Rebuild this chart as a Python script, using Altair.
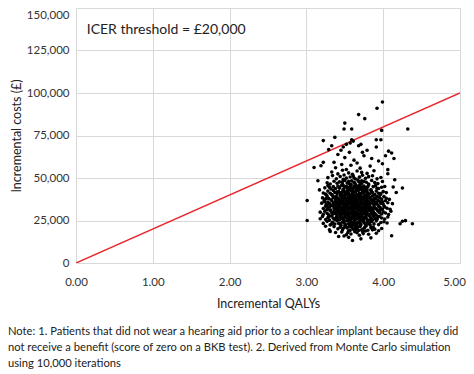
import altair as alt
import pandas as pd

# Axis ticks
x_ticks = [0, 1, 2, 3, 4, 5]
y_ticks = [0, 25000, 50000, 75000, 100000, 125000, 150000]

# ICER threshold line (£20,000 per QALY)
threshold_qaly = [0.0, 5.0]
threshold_cost = [0, 100000]

# Annotation
label_text = ["ICER threshold = £20,000"]
label_qaly = [0.14]
label_cost = [137000]

note_lines = [
    "Note: 1. Patients that did not wear a hearing aid prior to a cochlear implant because they did",
    "not receive a benefit (score of zero on a BKB test). 2. Derived from Monte Carlo simulation",
    "using 10,000 iterations",
]

# Monte Carlo points: (incremental QALYs, incremental cost in £ thousands)
band_13_19 = [(3.60,13.2),(3.49,15.9),(3.84,14.8),(3.55,15.1),(3.71,14.2),(3.42,15.6),
    (4.11,16.0),(3.38,17.9),(3.52,16.6),(3.63,18.4),(3.58,17.1),(3.69,16.3),(3.77,18.8),(3.46,18.2),
    (3.91,17.5),(3.66,17.8),(3.55,18.9),(3.81,16.9),(3.31,18.6),(3.74,17.3)]
band_19_25 = [(3.30,19.6),(3.94,19.0),(3.98,20.3),(3.36,21.4),(3.41,20.1),(3.47,19.4),(3.50,21.8),
    (3.53,20.6),(3.57,19.2),(3.59,21.1),(3.61,20.0),(3.63,21.7),(3.65,19.8),(3.67,20.9),(3.70,21.5),
    (3.72,19.5),(3.75,20.4),(3.78,21.9),(3.80,19.3),(3.84,20.8),(3.87,21.2),(3.44,21.0),(3.56,21.4),
    (3.68,19.1),(3.89,19.9),(3.25,21.6),
    (3.22,23.3),(3.27,24.5),(3.31,22.4),(3.34,23.9),(3.37,22.9),(3.40,24.8),(3.42,23.2),(3.45,22.2),
    (3.47,24.1),(3.49,23.5),(3.51,22.6),(3.53,24.7),(3.55,23.0),(3.57,22.3),(3.58,24.3),(3.60,23.6),
    (3.62,22.8),(3.63,24.9),(3.65,23.4),(3.66,22.1),(3.68,24.0),(3.70,23.1),(3.71,22.5),(3.73,24.6),
    (3.75,23.7),(3.77,22.7),(3.79,24.2),(3.81,23.3),(3.83,22.4),(3.85,24.4),(3.88,23.0),(3.91,24.8),
    (3.94,22.6),(3.97,23.8),(4.01,24.3),(4.05,23.5),(3.59,22.0),(3.69,24.5)]
band_25_31 = [(3.18,26.0),(3.21,27.4),(3.25,25.6),(3.28,26.8),(3.30,25.2),(3.33,27.7),(3.35,26.3),
    (3.37,25.5),(3.39,27.1),(3.41,26.6),(3.43,25.3),(3.45,27.9),(3.47,26.1),(3.48,25.7),(3.50,27.3),
    (3.52,26.5),(3.53,25.1),(3.55,27.6),(3.56,26.2),(3.58,25.8),(3.59,27.0),(3.61,26.7),(3.62,25.4),
    (3.64,27.8),(3.65,26.0),(3.66,25.9),(3.68,27.2),(3.69,26.4),(3.71,25.2),(3.72,27.5),(3.74,26.9),
    (3.75,25.6),(3.77,27.0),(3.78,26.3),(3.80,25.3),(3.82,27.7),(3.84,26.6),(3.86,25.5),(3.88,27.2),
    (3.90,26.1),(3.92,25.8),(3.95,27.4),(3.98,26.5),(4.02,25.9),(4.06,27.1),(3.46,26.9),(3.60,28.0),
    (3.70,25.0),
    (3.18,29.9),(3.22,28.6),(3.24,30.5),(3.27,29.2),(3.29,28.3),(3.31,30.8),(3.33,29.6),(3.35,28.9),
    (3.36,30.2),(3.38,29.0),(3.40,28.4),(3.41,30.6),(3.43,29.4),(3.44,28.1),(3.46,30.9),(3.47,29.7),
    (3.49,28.7),(3.50,30.3),(3.51,29.1),(3.53,28.2),(3.54,30.7),(3.55,29.5),(3.57,28.8),(3.58,30.1),
    (3.59,29.3),(3.61,28.5),(3.62,30.4),(3.63,29.8),(3.64,28.0),(3.66,30.0),(3.67,29.2),(3.68,28.6),
    (3.70,30.8),(3.71,29.5),(3.72,28.3),(3.74,30.2),(3.75,29.0),(3.76,28.9),(3.78,30.5),(3.79,29.6),
    (3.81,28.4),(3.82,30.9),(3.84,29.3),(3.86,28.7),(3.87,30.3),(3.89,29.1),(3.91,28.2),(3.93,30.6),
    (3.95,29.7),(3.98,28.8),(4.00,30.1),(4.03,29.4),(4.07,28.5),(4.10,30.4),(3.45,29.9),(3.65,29.0)]
band_31_37 = [(3.22,32.1),(3.25,33.4),(3.27,31.6),(3.30,32.8),(3.32,31.2),(3.34,33.7),(3.36,32.4),
    (3.37,31.5),(3.39,33.1),(3.40,32.0),(3.42,31.3),(3.43,33.9),(3.45,32.6),(3.46,31.8),(3.48,33.3),
    (3.49,32.2),(3.50,31.1),(3.52,33.6),(3.53,32.7),(3.54,31.4),(3.56,33.0),(3.57,32.3),(3.58,31.7),
    (3.60,33.8),(3.61,32.5),(3.62,31.0),(3.63,33.2),(3.64,32.0),(3.66,31.6),(3.67,33.5),(3.68,32.8),
    (3.69,31.2),(3.71,33.0),(3.72,32.4),(3.73,31.9),(3.75,33.7),(3.76,32.1),(3.77,31.3),(3.79,33.4),
    (3.80,32.6),(3.82,31.5),(3.83,33.1),(3.85,32.3),(3.87,31.8),(3.88,33.6),(3.90,32.0),(3.92,31.4),
    (3.94,33.3),(3.96,32.7),(3.99,31.7),(4.02,33.0),(4.05,32.2),(4.09,31.6),(3.28,33.0),(3.47,32.0),
    (3.59,33.0),(3.65,32.9),(3.70,31.8),(3.78,32.8),(3.55,32.0),
    (3.20,35.2),(3.23,36.4),(3.26,34.6),(3.28,35.9),(3.31,34.3),(3.33,36.7),(3.35,35.5),(3.37,34.1),
    (3.38,36.2),(3.40,35.0),(3.41,34.4),(3.43,36.9),(3.44,35.7),(3.46,34.8),(3.47,36.3),(3.49,35.3),
    (3.50,34.0),(3.52,36.6),(3.53,35.8),(3.54,34.5),(3.56,36.0),(3.57,35.1),(3.58,34.7),(3.60,36.8),
    (3.61,35.4),(3.62,34.2),(3.63,36.1),(3.65,35.6),(3.66,34.9),(3.67,36.5),(3.69,35.0),(3.70,34.3),
    (3.71,36.4),(3.73,35.2),(3.74,34.6),(3.76,36.7),(3.77,35.9),(3.78,34.1),(3.80,36.2),(3.81,35.5),
    (3.83,34.8),(3.84,36.9),(3.86,35.3),(3.88,34.4),(3.89,36.0),(3.91,35.7),(3.93,34.2),(3.95,36.3),
    (3.97,35.1),(4.00,34.7),(4.03,36.6),(4.06,35.4),(4.12,34.9),(3.30,35.0),(3.48,35.0),(3.59,35.9),
    (3.64,34.0),(3.72,35.8),(3.79,35.0),(3.55,36.9)]
band_37_43 = [(3.21,38.3),(3.24,37.5),(3.27,39.4),(3.29,38.0),(3.32,37.2),(3.34,39.7),(3.36,38.6),
    (3.38,37.4),(3.39,39.1),(3.41,38.2),(3.43,37.0),(3.44,39.8),(3.46,38.5),(3.48,37.6),(3.49,39.3),
    (3.51,38.1),(3.52,37.3),(3.54,39.6),(3.55,38.8),(3.57,37.1),(3.58,39.0),(3.60,38.4),(3.61,37.7),
    (3.63,39.5),(3.64,38.0),(3.65,37.4),(3.67,39.2),(3.68,38.7),(3.70,37.2),(3.71,39.9),(3.73,38.3),
    (3.74,37.8),(3.76,39.4),(3.77,38.1),(3.79,37.5),(3.81,39.0),(3.82,38.6),(3.84,37.3),(3.86,39.6),
    (3.88,38.2),(3.90,37.9),(3.92,39.2),(3.95,38.5),(3.98,37.6),(4.01,39.1),(4.04,38.0),(4.08,37.4),
    (3.45,37.0),(3.56,38.0),(3.62,39.9),(3.69,38.0),(3.80,38.9),(3.26,38.0),(3.50,40.0),
    (3.17,43.0),(3.22,41.2),(3.25,40.5),(3.28,42.3),(3.31,41.0),(3.33,40.2),(3.35,42.7),(3.37,41.5),
    (3.40,40.8),(3.42,42.1),(3.44,41.3),(3.46,40.3),(3.48,42.9),(3.49,41.7),(3.51,40.6),(3.53,42.4),
    (3.55,41.1),(3.56,40.0),(3.58,42.6),(3.60,41.4),(3.61,40.7),(3.63,42.2),(3.64,41.8),(3.66,40.4),
    (3.68,42.8),(3.69,41.0),(3.71,40.9),(3.73,42.5),(3.75,41.6),(3.76,40.1),(3.78,42.0),(3.80,41.3),
    (3.82,40.6),(3.84,42.7),(3.86,41.5),(3.89,40.2),(3.91,42.3),(3.94,41.0),(3.97,40.8),(4.00,42.0),
    (4.04,41.4),(4.17,41.5),(3.57,43.0),(3.67,43.0),(3.47,41.9),(3.79,43.0)]
band_43_58 = [(3.24,44.2),(3.28,45.6),(3.32,43.5),(3.35,44.9),(3.38,43.8),(3.41,45.3),(3.43,44.0),
    (3.46,45.8),(3.48,43.3),(3.50,44.6),(3.52,45.1),(3.54,43.7),(3.56,44.4),(3.58,45.9),(3.60,43.2),
    (3.62,44.8),(3.63,45.4),(3.65,43.9),(3.67,44.3),(3.69,45.7),(3.71,43.4),(3.73,44.7),(3.75,45.2),
    (3.77,43.6),(3.79,44.5),(3.81,45.9),(3.84,43.1),(3.87,44.9),(3.90,45.5),(3.94,43.8),(3.98,44.6),
    (4.02,45.0),(4.13,44.7),(4.25,44.1),(3.59,44.1),(3.70,46.0),
    (3.15,48.4),(3.27,47.2),(3.31,46.5),(3.36,48.1),(3.40,46.9),(3.43,47.7),(3.47,46.3),(3.50,48.6),
    (3.53,47.0),(3.56,46.6),(3.59,48.3),(3.62,47.4),(3.64,46.2),(3.67,48.8),(3.70,47.1),(3.72,46.8),
    (3.75,48.0),(3.78,47.5),(3.81,46.4),(3.85,48.5),(3.89,47.3),(3.93,46.7),(3.99,47.9),(4.15,49.0),
    (3.58,46.1),(3.68,47.9),
    (3.28,50.2),(3.34,51.4),(3.39,49.6),(3.44,50.9),(3.49,51.8),(3.52,49.9),(3.57,50.6),(3.61,51.2),
    (3.64,49.4),(3.69,50.5),(3.73,51.6),(3.77,49.8),(3.81,50.8),(3.86,51.3),(3.92,49.5),(3.97,50.3),
    (3.62,50.0),(3.48,49.3),
    (3.33,53.5),(3.41,52.4),(3.47,54.6),(3.55,53.0),(3.60,52.2),(3.66,54.1),(3.72,53.3),(3.79,52.7),
    (3.88,54.3),(4.06,54.9),(4.06,52.5),(3.52,55.0),
    (3.10,56.2),(3.19,57.2),(3.99,58.4),(3.38,56.0),(3.58,57.5),(3.70,55.8),(3.83,57.0),(3.46,57.9)]
core_fill = [(3.40,25.9),(3.44,27.0),(3.49,24.4),(3.52,28.9),(3.56,25.0),(3.60,27.4),(3.63,24.2),
    (3.67,28.4),(3.71,26.1),(3.74,24.8),(3.78,27.9),(3.83,25.4),(3.87,28.0),(3.39,30.0),
    (3.42,32.7),(3.45,28.5),(3.48,31.4),(3.51,33.0),(3.54,29.9),(3.57,31.9),(3.60,30.7),(3.63,33.4),
    (3.66,28.8),(3.69,32.1),(3.72,30.0),(3.75,33.1),(3.78,29.3),(3.81,31.9),(3.85,30.6),(3.89,32.5),
    (3.37,34.9),(3.41,36.0),(3.45,35.2),(3.48,36.5),(3.51,34.6),(3.54,35.9),(3.57,36.4),(3.60,34.5),
    (3.63,35.8),(3.66,36.9),(3.69,34.8),(3.72,36.1),(3.75,35.0),(3.78,36.6),(3.82,34.3),(3.86,35.6),
    (3.90,34.9),(3.38,38.9),(3.42,37.8),(3.46,39.6),(3.50,38.6),(3.53,37.5),(3.56,39.2),(3.59,37.9),
    (3.62,38.8),(3.66,37.7),(3.69,39.5),(3.72,38.0),(3.75,38.9),(3.78,39.8),(3.83,38.4),(3.87,37.1),
    (3.40,41.9),(3.45,40.6),(3.49,42.4),(3.52,41.3),(3.55,42.9),(3.59,40.3),(3.62,41.7),(3.65,42.6),
    (3.69,40.6),(3.72,41.2),(3.76,42.8),(3.80,40.5),(3.85,41.9),
    (3.43,44.5),(3.48,45.5),(3.53,44.2),(3.57,45.2),(3.61,44.0),(3.66,45.1),(3.70,44.4),(3.75,43.5),
    (3.80,44.9),(3.47,47.8),(3.55,48.0),(3.63,47.0),(3.72,48.4),
    (3.44,23.0),(3.52,21.2),(3.58,23.3),(3.64,21.4),(3.70,22.9),(3.76,21.0),(3.82,23.9),(3.48,20.4),
    (3.62,19.6),(3.73,18.6),(3.86,19.5),(3.54,17.9),
    (3.30,27.5),(3.27,31.5),(3.24,36.0),(3.26,40.0),(3.30,44.5),(3.96,31.0),(3.99,36.0),(3.96,40.0),
    (3.93,27.0),(4.01,33.5),(3.92,44.0),(3.33,23.0),(3.35,38.5),(3.93,37.0)]
outliers = [(3.22,59.2),(3.36,59.2),(4.14,61.5),(3.85,61.5),(3.75,63.1),(4.03,63.1),(4.07,65.8),
    (4.11,64.7),(3.29,66.7),(3.45,66.3),(3.56,65.1),(3.79,66.3),(3.73,65.1),(3.33,69.0),(3.48,68.2),
    (3.52,69.8),(3.57,70.6),(3.68,69.0),(3.71,69.8),(3.91,68.2),(3.22,72.0),(3.59,72.5),(3.61,71.7),
    (3.91,72.5),(3.97,72.5),(3.37,73.9),(3.49,78.8),(3.59,78.8),(3.98,78.0),(4.32,78.8),(3.50,82.3),
    (3.76,84.9),(3.68,87.3),(3.92,91.0),(3.99,94.7),(3.01,36.8),(3.01,25.0),(4.38,23.1),(4.25,24.6),
    (4.22,23.1),(4.29,24.9),(3.62,60.5),(3.50,62.0),(3.66,58.8),(3.94,60.0),(3.41,63.8)]

all_points = (band_13_19 + band_19_25 + band_25_31 + band_31_37 + band_37_43 + band_43_58
              + core_fill + outliers)
pts = pd.DataFrame({"qaly": [p[0] for p in all_points],
                    "cost": [p[1] * 1000 for p in all_points]})
line_df = pd.DataFrame({"qaly": threshold_qaly, "cost": threshold_cost})
label_df = pd.DataFrame({"qaly": label_qaly, "cost": label_cost, "text": label_text})

FONT = "Lato"

x_enc = alt.X("qaly:Q",
              scale=alt.Scale(domain=[0, 5], nice=False, zero=False),
              axis=alt.Axis(values=x_ticks, format=".2f", title="Incremental QALYs",
                            labelPadding=13, titlePadding=10, labelFlush=False,
                            labelOffset={"condition": {"test": "datum.value >= 5", "value": -6}, "value": 0}))
y_enc = alt.Y("cost:Q",
              scale=alt.Scale(domain=[0, 150000], nice=False),
              axis=alt.Axis(values=y_ticks, format=",d", title="Incremental costs (£)",
                            labelPadding=7, titlePadding=3, labelFlush=False,
                            labelOffset={"condition": {"test": "datum.value >= 150000", "value": 7}, "value": 0}))

line = alt.Chart(line_df).mark_line(color="#e8262b", strokeWidth=1.5, clip=True).encode(x=x_enc, y=y_enc)
points = alt.Chart(pts).mark_circle(size=13, color="black", opacity=1).encode(x="qaly:Q", y="cost:Q")
label = alt.Chart(label_df).mark_text(align="left", baseline="middle", fontSize=14,
                                      font=FONT, color="#222222").encode(
    x="qaly:Q", y="cost:Q", text="text:N")

chart = alt.layer(line, points, label).properties(
    width=384, height=255,
    autosize="none",
    padding={"left": 68, "top": 0, "right": 6, "bottom": 107},
    title=alt.TitleParams(text=note_lines, orient="bottom", anchor="start", frame="group",
                          dx=-68, offset=16, fontSize=11.2, font=FONT, fontWeight="normal",
                          lineHeight=16, color="#222222"),
).configure_axis(
    grid=True, gridColor="#d9d9d9", gridWidth=1, domain=False, ticks=False,
    labelFont=FONT, labelFontSize=11.5, labelColor="#333333",
    titleFont=FONT, titleFontSize=12.5, titleFontWeight="normal", titleColor="#222222",
).configure_view(stroke=None)

chart.save("out.html", embed_options={"renderer": "svg", "actions": False})
